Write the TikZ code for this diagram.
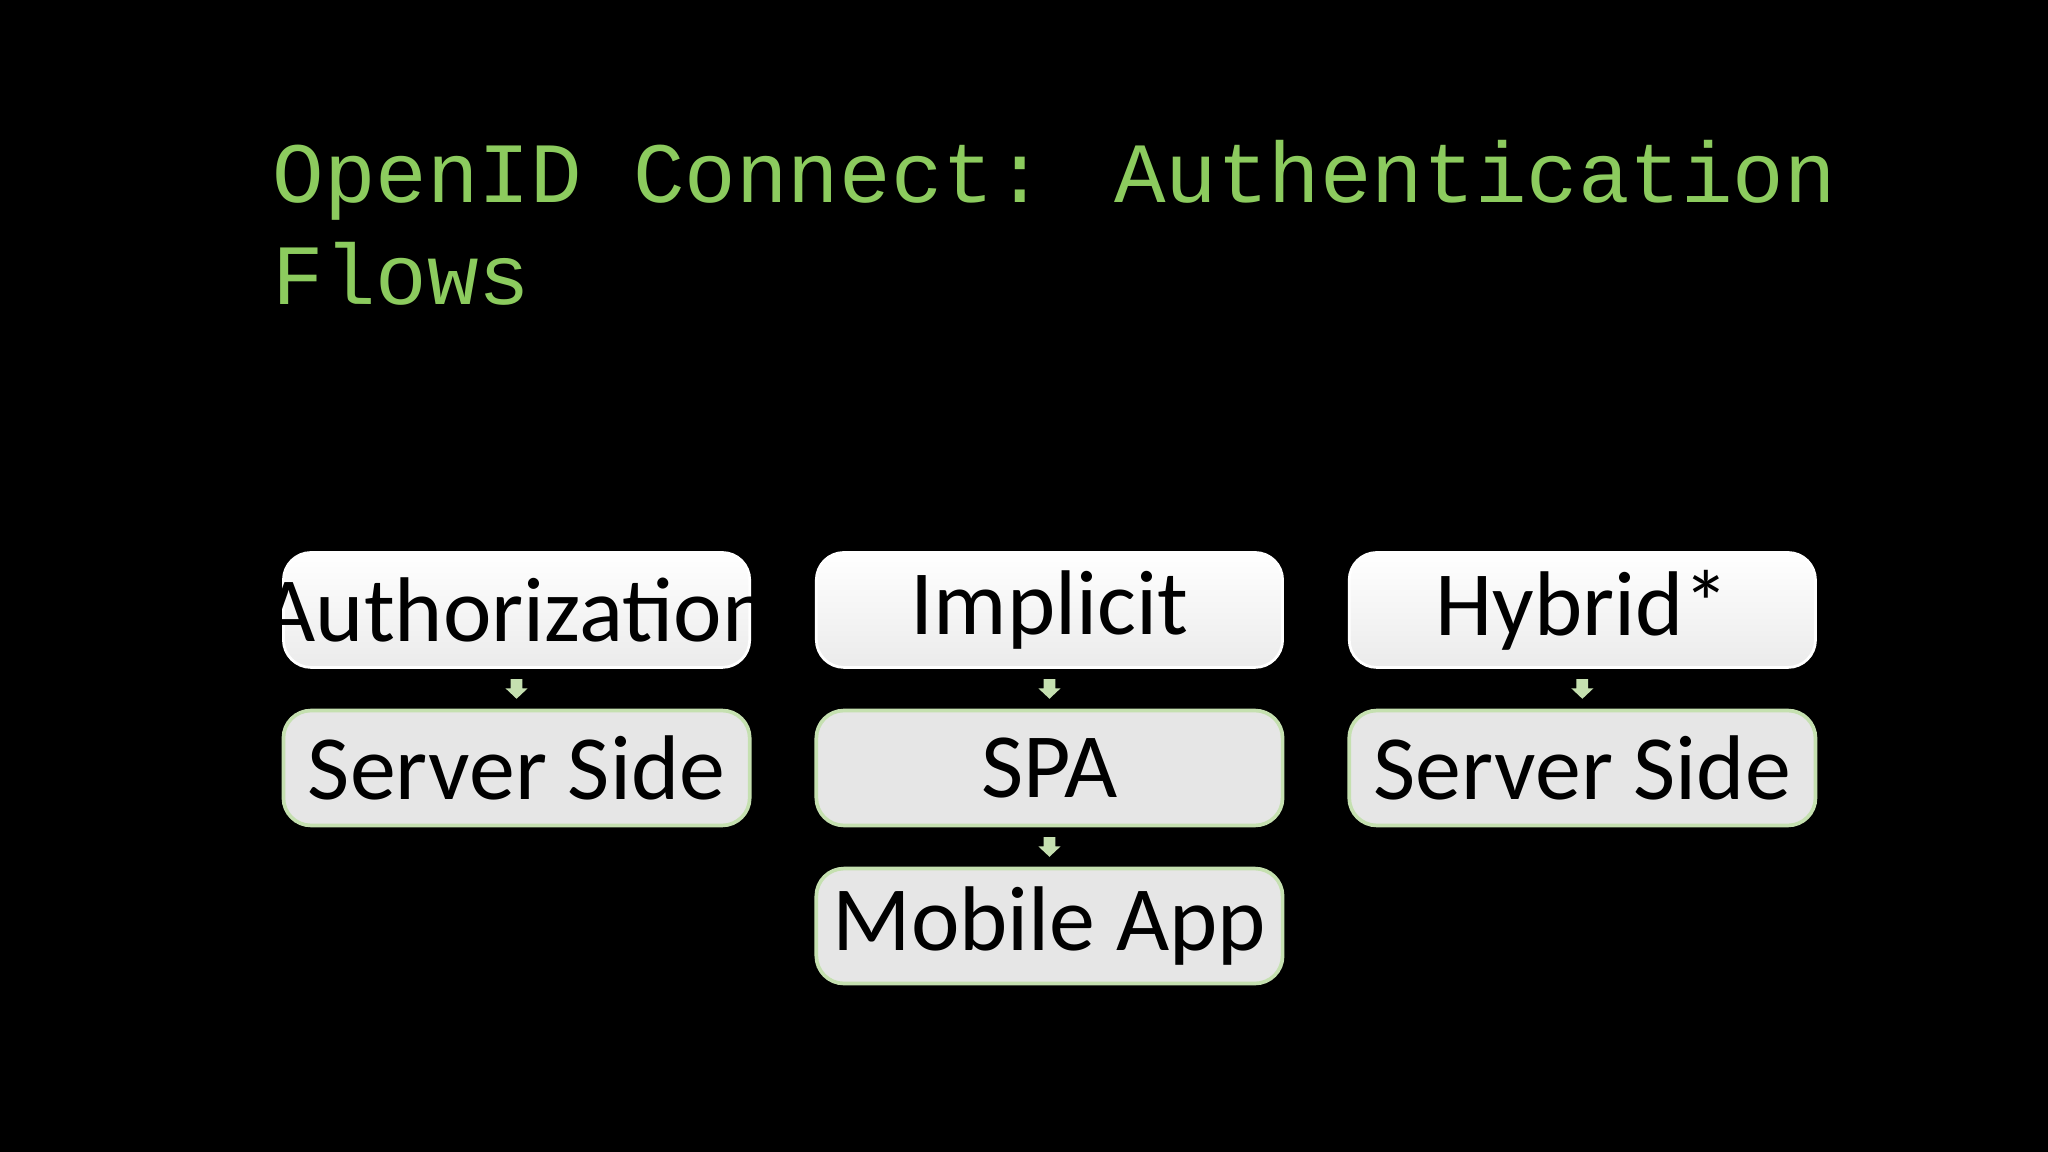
\documentclass[tikz,border=0pt]{standalone}
\usepackage{fontspec}
\setmainfont{Carlito}
\newfontfamily\titlefont{Liberation Mono}
\definecolor{tgreen}{HTML}{8CCB5E}
\definecolor{boxgray}{HTML}{E6E6E6}
\definecolor{arrgreen}{HTML}{C5E0B0}
\begin{document}
\begin{tikzpicture}[x=0.01cm,y=-0.01cm,
  topbox/.style={rounded corners=6pt,top color=white,bottom color=boxgray!80,draw=white,line width=0.6pt},
  lowbox/.style={rounded corners=6pt,fill=boxgray,draw=arrgreen,line width=0.8pt},
  lbl/.style={font=\fontsize{20}{24}\selectfont,text=black},
  arr/.style={fill=arrgreen,draw=none}]
\fill[black] (0,0) rectangle (1568,882);
\useasboundingbox (0,0) rectangle (1568,882);
\node[anchor=base west,text=tgreen,inner sep=0,font=\titlefont\fontsize{18.7}{22}\selectfont] (t1) at (208,155) {OpenID Connect: Authentication};
\node[anchor=base west,text=tgreen,inner sep=0,font=\titlefont\fontsize{18.7}{22}\selectfont] (t2) at (208,233) {Flows};
\foreach \x/\n/\top/\low in {217/a/Authorization/Server Side,625/b/Implicit/SPA,1033/c/Hybrid*/Server Side}{
  \draw[topbox] (\x,423) rectangle (\x+357,511);
  \node[lbl] (\n1) at (\x+178.5,467) {\top};
  \draw[lowbox] (\x,544) rectangle (\x+357,632);
  \node[lbl] (\n2) at (\x+178.5,588) {\low};
  \fill[arr] (\x+174,520)--(\x+183,520)--(\x+183,527)--(\x+187,527)--(\x+178.5,535)--(\x+170,527)--(\x+174,527)--cycle;
}
\draw[lowbox] (625,665) rectangle (982,753);
\node[lbl] (b3) at (803.5,709) {Mobile App};
\fill[arr] (799,641)--(808,641)--(808,648)--(812,648)--(803.5,656)--(795,648)--(799,648)--cycle;
\end{tikzpicture}
\end{document}
